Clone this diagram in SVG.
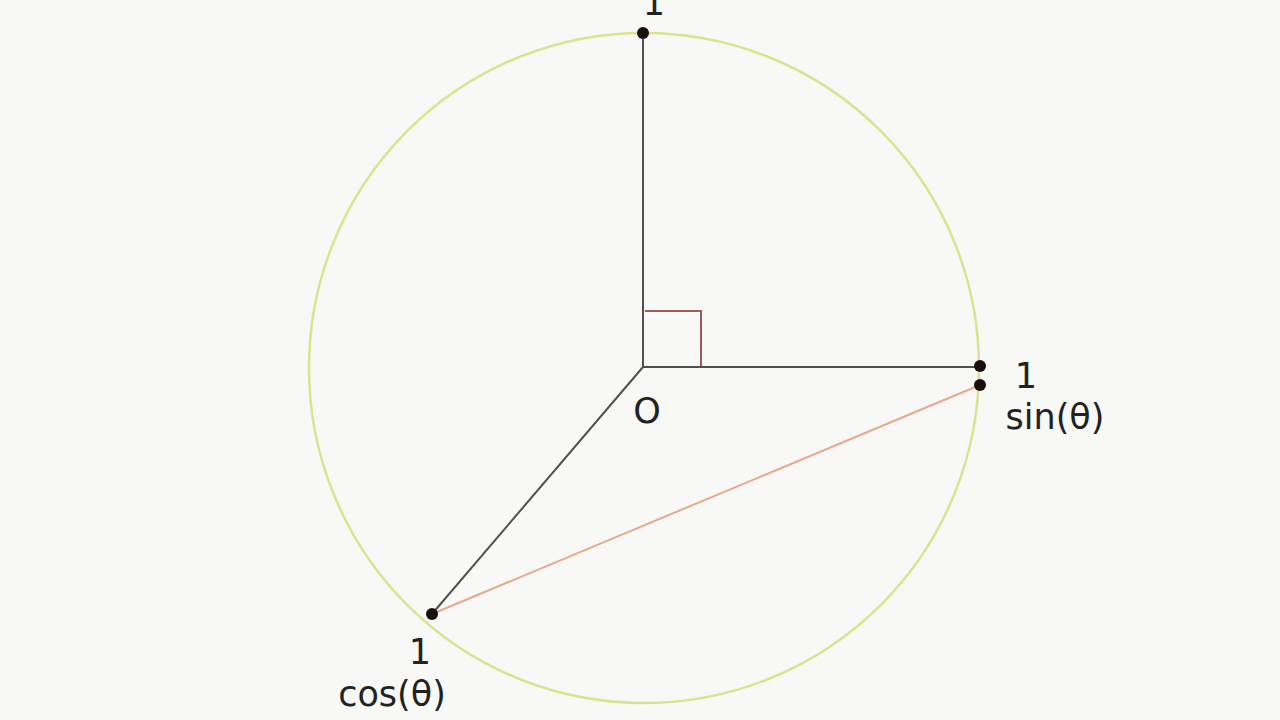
<svg xmlns="http://www.w3.org/2000/svg" width="1280" height="720" viewBox="0 0 1280 720">
<style>
.axis{stroke:#505050;stroke-width:2;fill:none}
.lbl{font-family:"DejaVu Sans","Liberation Sans",sans-serif;font-size:35px;fill:#222;text-anchor:middle}
.pt{fill:#1a1010}
</style>
<rect width="1280" height="720" fill="#f8f8f7"/>
<g id="circle"><circle cx="644" cy="368" r="335" fill="none" stroke="#dce38e" stroke-width="2.5"/></g>
<g id="connectors">
<line class="axis" x1="643" y1="33" x2="643" y2="367"/>
<line class="axis" x1="643" y1="367" x2="980" y2="367"/>
<line class="axis" x1="643" y1="367" x2="432" y2="614"/>
<line x1="432" y1="614" x2="980" y2="385" stroke="#e8a88a" stroke-width="2"/>
<polyline points="645,311 701,311 701,366" fill="none" stroke="#9c5a5a" stroke-width="2"/>
</g>
<g id="top"><circle class="pt" cx="643" cy="33" r="6"/><text class="lbl" x="654" y="15">1</text></g>
<g id="origin"><text class="lbl" x="647" y="423">O</text></g>
<g id="right1"><circle class="pt" cx="980" cy="366" r="6"/><text class="lbl" x="1026" y="388">1</text></g>
<g id="rightsin"><circle class="pt" cx="980" cy="385" r="6"/><text class="lbl" x="1055" y="429">sin(θ)</text></g>
<g id="bottom"><circle class="pt" cx="432" cy="614" r="6"/><text class="lbl" x="420" y="664">1</text><text class="lbl" x="392" y="706">cos(θ)</text></g>
</svg>
